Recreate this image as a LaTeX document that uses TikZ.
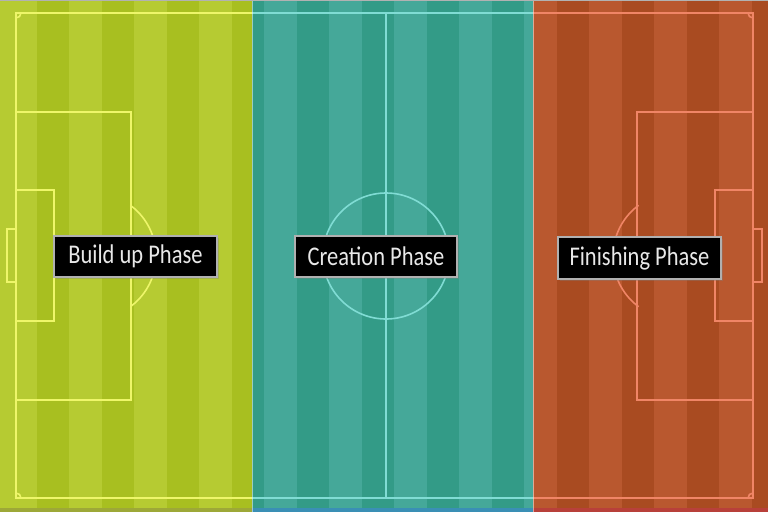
\documentclass[tikz,border=0pt]{standalone}
\usepackage{fontspec}
\usepackage{graphicx}
\setmainfont{Carlito}
\usetikzlibrary{shadows}
\definecolor{ylight}{HTML}{B6CB32}
\definecolor{ydark}{HTML}{A8BF20}
\definecolor{yline}{HTML}{EEF66A}
\definecolor{tlight}{HTML}{45A899}
\definecolor{tdark}{HTML}{339B87}
\definecolor{tline}{HTML}{80DCD4}
\definecolor{olight}{HTML}{B9582F}
\definecolor{odark}{HTML}{A94B21}
\definecolor{oline}{HTML}{F08566}
\definecolor{yedge}{HTML}{9DA838}
\definecolor{tedge}{HTML}{3A8FB5}
\definecolor{oedge}{HTML}{B8403A}
\definecolor{labeltext}{HTML}{E8E8E8}
\definecolor{labelborder}{HTML}{B0B0B0}
\newcommand\pitchlines[1]{%
  \draw[pline,#1] (16,13) rectangle (753,498);
  \draw[pline,#1] (386,13) -- (386,498);
  \draw[pline,#1] (386,256) circle[radius=63];
  \draw[pline,#1] (16,112) rectangle (131,400);
  \draw[pline,#1] (16,190) rectangle (54,321);
  \draw[pline,#1] (7,229) rectangle (16,282);
  \draw[pline,#1] ([shift={(-53.6:63)}]93,256) arc[start angle=-53.6,end angle=53.6,radius=63];
  \draw[pline,#1] (637,112) rectangle (753,400);
  \draw[pline,#1] (715,190) rectangle (753,321);
  \draw[pline,#1] (753,229) rectangle (762,282);
  \draw[pline,#1] ([shift={(126.4:63)}]676,256) arc[start angle=126.4,end angle=233.6,radius=63];
  \draw[pline,#1] (21,13) arc[start angle=0,end angle=90,radius=5];
  \draw[pline,#1] (748,13) arc[start angle=180,end angle=90,radius=5];
  \draw[pline,#1] (21,498) arc[start angle=0,end angle=-90,radius=5];
  \draw[pline,#1] (748,498) arc[start angle=180,end angle=270,radius=5];
}
\newcommand\phasetext[1]{\scalebox{1}[1.2]{#1}}
\tikzset{
  pline/.style={line width=1.6pt},
  phase/.style={fill=black, draw=labelborder, line width=1.1pt, text=labeltext,
    font=\fontsize{22.5}{26}\selectfont, inner sep=0pt,
    drop shadow={shadow xshift=1.5pt, shadow yshift=-1.5pt, opacity=0.35}},
}
\begin{document}
\begin{tikzpicture}[x=1pt,y=-1pt]
\useasboundingbox (0,0) rectangle (768,512);
\foreach \xa/\xb/\lc/\dc/\ln/\ec in {0/252/ylight/ydark/yline/yedge, 252/533/tlight/tdark/tline/tedge, 533/768/olight/odark/oline/oedge} {
  \begin{scope}
    \clip (\xa,0) rectangle (\xb,512);
    \fill[\lc] (\xa,0) rectangle (\xb,512);
    \foreach \k in {0,...,11} \fill[\dc] ({37+65*\k},0) rectangle ({69+65*\k},512);
    \fill[\ec] (\xa,508) rectangle (\xb,512);
    \pitchlines{\ln}
  \end{scope}
}
\draw[white, opacity=0.5, line width=0.8pt] (252,0) -- (252,512);
\draw[white, opacity=0.5, line width=0.8pt] (533,0) -- (533,512);
\draw[gray!60, line width=1pt] (0,0.5) -- (768,0.5);
\node[phase, minimum width=163pt, minimum height=41pt] (build) at (135.5,256.5) {\phasetext{Build up Phase}};
\node[phase, minimum width=162pt, minimum height=41pt] (creation) at (376,256.5) {\phasetext{Creation Phase}};
\node[phase, minimum width=163pt, minimum height=42pt] (finish) at (639.5,258) {\phasetext{Finishing Phase}};
\end{tikzpicture}
\end{document}
